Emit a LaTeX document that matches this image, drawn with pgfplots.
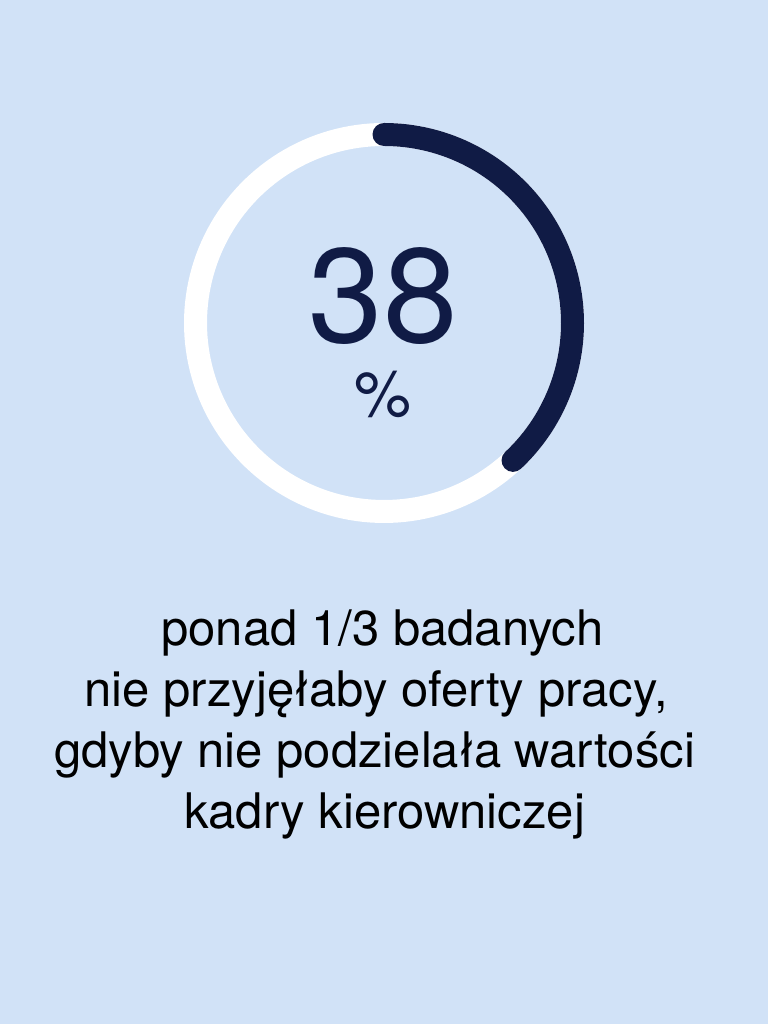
\documentclass[border=0pt]{standalone}
\usepackage{pgfplots}
\pgfplotsset{compat=1.18}
\usepackage{fontspec}
\setmainfont{TeX Gyre Heros}
\definecolor{bgblue}{HTML}{D1E2F7}
\definecolor{navy}{HTML}{101B45}

\begin{document}
\begin{tikzpicture}
\useasboundingbox (0,0) rectangle (768pt,1024pt);
\fill[bgblue] (0,0) rectangle (768pt,1024pt);
\begin{axis}[x=1pt, y=1pt, xmin=0, xmax=768, ymin=0, ymax=1024,
    anchor=origin, at={(0,0)}, hide axis, clip=false]
    % full ring (100 %)
    \addplot[white, line width=23pt, domain=0:360, samples=181]
        ({384+188.5*cos(x)}, {701+188.5*sin(x)});
    % share: 38 % clockwise from the top
    \addplot[navy, line width=23pt, line cap=round, domain=90:{90-3.6*38}, samples=80]
        ({384+188.5*cos(x)}, {701+188.5*sin(x)});
    \node[navy, anchor=base, inner sep=0pt, font=\fontsize{134}{134}\selectfont] at (axis cs:383,681) {38};
    \node[navy, anchor=base, inner sep=0pt, font=\fontsize{64}{64}\selectfont] at (axis cs:383,607) {\%};
    \node[black, anchor=base, inner sep=0pt, font=\fontsize{49}{61}\selectfont] at (axis cs:382.5,378) {ponad 1/3 badanych};
    \node[black, anchor=base, inner sep=0pt, font=\fontsize{49}{61}\selectfont] at (axis cs:376,317) {nie przyjęłaby oferty pracy,};
    \node[black, anchor=base, inner sep=0pt, font=\fontsize{49}{61}\selectfont] at (axis cs:374.5,256) {gdyby nie podzielała wartości};
    \node[black, anchor=base, inner sep=0pt, font=\fontsize{49}{61}\selectfont] at (axis cs:384.5,195) {kadry kierowniczej};
\end{axis}
\end{tikzpicture}
\end{document}
